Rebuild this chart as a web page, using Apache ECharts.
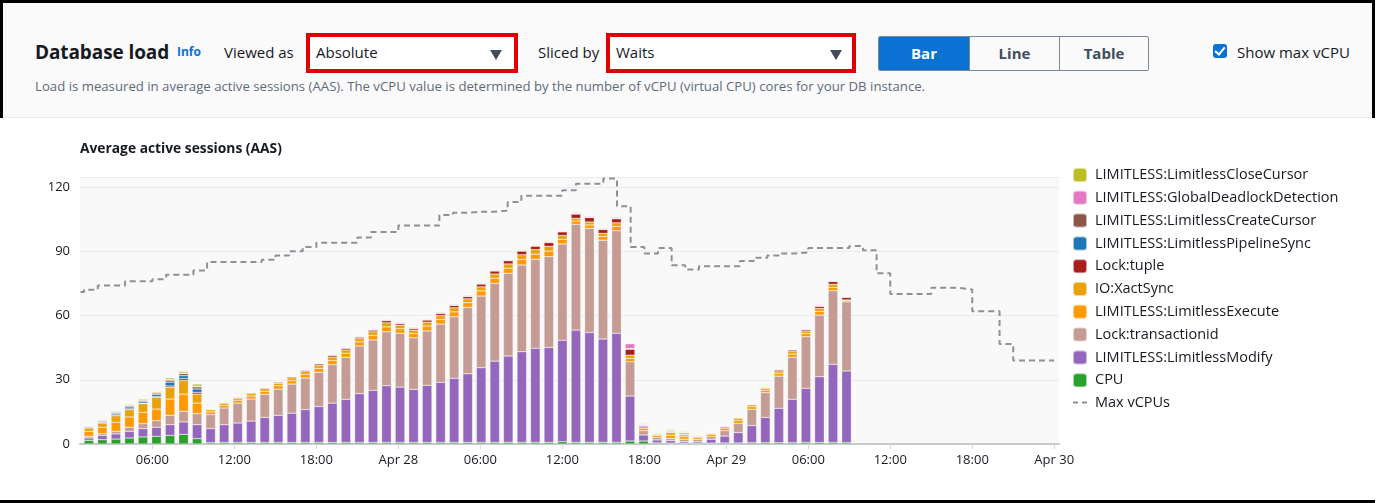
<!DOCTYPE html>
<html>
<head>
<meta charset="utf-8">
<script src="https://cdn.jsdelivr.net/npm/echarts@6/dist/echarts.min.js"></script>
<style>
  html, body { margin: 0; padding: 0; width: 1384px; height: 503px; overflow: hidden; background: #fff; }
  body { font-family: "Open Sans", "Noto Sans", sans-serif; color: #16191f; position: relative; }
  #frame { position: absolute; left: 0; top: 0; width: 1369px; height: 497px; border: 3px solid #000; box-sizing: content-box; }
  #header { position: absolute; left: 3px; top: 3px; width: 1369px; height: 114px; background: #fafafa; border-bottom: 1px solid #e9ebed; }
  .abs { position: absolute; white-space: nowrap; }
  .title { left: 32px; top: 36px; font-size: 19px; font-weight: 700; letter-spacing: -0.1px; }
  .info { left: 174px; top: 40px; font-size: 12px; font-weight: 700; color: #0972d3; }
  .lbl { font-size: 15px; top: 39px; }
  .select { top: 30px; height: 32px; border: 4px solid #e00000; background: #fff; }
  .select span { position: absolute; left: 6px; top: 5px; font-size: 15px; }
  .select i { position: absolute; top: 13px; width: 0; height: 0; border-left: 6px solid transparent; border-right: 6px solid transparent; border-top: 10px solid #414d5c; }
  .seg { top: 33px; height: 33px; border: 1px solid #7d8998; border-radius: 2px; display: flex; overflow: hidden; }
  .seg div { height: 33px; line-height: 33px; text-align: center; font-size: 15px; font-weight: 700; color: #414d5c; box-sizing: border-box; }
  .seg div + div { border-left: 1px solid #7d8998; }
  .seg .on { background: #0972d3; color: #fff; }
  .chk { left: 1210px; top: 41px; width: 14px; height: 14px; border-radius: 3px; background: #0972d3; }
  .chk::after { content: ""; position: absolute; left: 4px; top: 1px; width: 4px; height: 8px; border: solid #fff; border-width: 0 2px 2px 0; transform: rotate(40deg); }
  .show { left: 1234px; top: 39px; font-size: 15px; }
  .sub { left: 32px; top: 74px; font-size: 13.2px; color: #5f6b7a; }
  #chart { position: absolute; left: 0; top: 118px; width: 1384px; height: 382px; }
</style>
</head>
<body>
<div id="frame"></div>
<div id="header">
  <div class="abs title">Database load</div>
  <div class="abs info">Info</div>
  <div class="abs lbl" style="left:221px">Viewed as</div>
  <div class="abs select" style="left:303px;width:204px"><span>Absolute</span><i style="left:180px"></i></div>
  <div class="abs lbl" style="left:535px">Sliced by</div>
  <div class="abs select" style="left:603px;width:242px"><span>Waits</span><i style="left:220px"></i></div>
  <div class="abs seg" style="left:875px">
    <div class="on" style="width:90px">Bar</div>
    <div style="width:90px">Line</div>
    <div style="width:89px">Table</div>
  </div>
  <div class="abs chk"></div>
  <div class="abs show">Show max vCPU</div>
  <div class="abs sub">Load is measured in average active sessions (AAS). The vCPU value is determined by the number of vCPU (virtual CPU) cores for your DB instance.</div>
</div>
<div id="chart"></div>
<script>
// Hour offsets from Apr 27 00:00 for each hourly bar (Apr 27 01:00 .. Apr 29 09:00)
const hours = [1,2,3,4,5,6,7,8,9,10,11,12,13,14,15,16,17,18,19,20,21,22,23,24,25,26,27,28,29,30,31,32,33,34,35,36,37,38,39,40,41,42,43,44,45,46,47,48,49,50,51,52,53,54,55,56,57];

// Average active sessions per wait event
const cpu = [1.7,2.0,2.3,2.8,3.3,3.6,4.0,4.5,2.5,0.6,0.7,0.7,0.7,0.7,0.7,0.7,0.7,0.7,0.7,0.7,0.7,0.7,0.7,0.7,0.7,0.7,0.7,0.7,0.7,0.7,0.7,0.8,0.8,0.8,0.8,1.1,0.8,0.8,0.8,0.8,1.4,1.4,0.5,0.4,0.4,0.4,0.4,0.5,0.5,0.6,0.6,0.6,0.6,0.7,0.7,0.7,0.6];
const limitlessModify = [1.1,2.0,2.4,3.1,3.9,4.2,5.0,5.8,6.5,6.6,8.3,9.1,10.0,11.7,12.7,13.7,15.4,16.8,18.4,20.2,22.8,24.4,26.5,25.9,24.8,26.7,28.1,30.0,32.1,34.9,38.0,40.3,42.3,43.9,44.3,47.3,52.4,51.3,48.2,50.9,21.0,2.8,1.4,1.2,0.7,0.7,1.8,3.2,4.8,8.0,11.8,16.1,20.3,25.3,30.7,36.5,33.5];
const lockTransactionid = [0.8,0.8,1.2,1.9,2.3,3.1,4.4,5.0,5.2,6.5,7.8,9.3,10.3,10.8,12.2,13.6,14.7,16.0,17.9,19.6,22.3,23.5,25.2,25.1,24.1,25.4,27.2,28.7,31.0,33.5,36.3,38.6,40.5,41.5,42.4,45.0,49.4,48.6,46.2,47.9,16.0,2.0,1.2,1.0,1.1,1.1,1.2,2.5,4.3,7.6,11.6,15.0,19.6,24.1,28.8,34.4,32.3];
const limitlessExecute = [2.3,3.0,4.2,4.8,5.3,5.4,7.6,8.0,4.9,1.3,1.3,1.3,1.4,1.4,1.6,1.6,1.7,1.8,2.0,1.9,1.9,2.1,2.3,2.1,2.0,2.3,2.2,2.3,2.2,2.4,2.4,2.4,2.6,2.5,2.6,2.2,1.5,1.6,1.7,2.0,1.6,1.1,0.9,1.5,1.2,0.8,1.0,1.2,1.4,1.2,1.1,1.4,1.5,1.5,1.7,1.6,0.5];
const ioXactSync = [1.6,2.0,3.1,3.4,4.0,5.5,5.5,6.4,4.2,1.0,1.0,1.0,1.1,1.2,1.2,1.3,1.3,1.4,1.6,1.5,1.5,1.7,1.9,1.7,1.6,1.8,1.8,1.9,1.8,1.9,2.0,2.0,2.2,2.1,2.2,1.8,1.3,1.4,1.5,1.7,1.5,0.8,0.6,1.2,0.9,0.6,0.6,0.7,1.0,0.9,0.9,1.1,1.2,1.2,1.4,1.4,0.4];
const lockTuple = [0.2,0.3,0.4,0.4,0.3,0.4,0.6,0.8,0.8,0.3,0.3,0.4,0.4,0.4,0.5,0.5,0.6,0.7,0.8,0.8,0.7,0.8,1.0,0.8,0.8,1.0,1.0,1.1,1.1,1.3,1.4,1.5,1.7,1.6,1.8,1.7,2.0,2.1,1.8,1.9,2.8,0.5,0.1,0.3,0.2,0.1,0.2,0.3,0.3,0.3,0.4,0.6,0.7,0.7,1.0,1.3,1.2];
const limitlessPipelineSync = [0.4,0.5,0.7,0.9,0.8,1.0,1.8,1.4,1.6,0.1,0.1,0.1,0.1,0.1,0.1,0.1,0.1,0.1,0.1,0.1,0.1,0.1,0.1,0.1,0.1,0.1,0.1,0.1,0.1,0.1,0.1,0.1,0.1,0.1,0.1,0.1,0.1,0.1,0.1,0.1,0.1,0.2,0.1,0.3,0.6,0.1,0.1,0.1,0.1,0.1,0.1,0.1,0.1,0.1,0.1,0.1,0.1];
const limitlessCreateCursor = [0.3,0.4,0.5,0.5,0.5,0.6,0.9,1.0,1.0,0.1,0.1,0.1,0.2,0.2,0.2,0.2,0.2,0.2,0.3,0.3,0.3,0.3,0.3,0.3,0.3,0.3,0.3,0.3,0.3,0.3,0.3,0.3,0.3,0.3,0.3,0.3,0.2,0.2,0.2,0.2,0.2,0.3,0.1,0.3,0.3,0.2,0.2,0.2,0.2,0.1,0.1,0.2,0.2,0.2,0.2,0.2,0.1];
const globalDeadlockDetection = [0.1,0.1,0.1,0.1,0.1,0.1,0.2,0.2,0.3,0.2,0.2,0.2,0.2,0.2,0.2,0.2,0.2,0.2,0.2,0.2,0.2,0.3,0.3,0.3,0.3,0.3,0.3,0.3,0.3,0.3,0.3,0.3,0.3,0.3,0.3,0.3,0.4,0.4,0.4,0.5,2.2,0.2,0.0,0.1,0.1,0.0,0.1,0.1,0.1,0.1,0.1,0.1,0.1,0.1,0.2,0.3,0.3];
const limitlessCloseCursor = [0.2,0.3,0.4,0.5,0.5,0.5,0.8,0.8,1.0,0.1,0.1,0.1,0.1,0.1,0.1,0.1,0.1,0.1,0.1,0.1,0.1,0.1,0.1,0.1,0.1,0.1,0.1,0.1,0.1,0.1,0.1,0.1,0.1,0.1,0.1,0.1,0.1,0.1,0.1,0.1,0.2,0.3,0.1,0.5,0.3,0.2,0.2,0.1,0.1,0.1,0.1,0.1,0.1,0.1,0.1,0.1,0.1];

// Max vCPU, one value per hour (held until the next hour)
const vcpuHours = [0,1,2,3,4,5,6,7,8,9,10,11,12,13,14,15,16,17,18,19,20,21,22,23,24,25,26,27,28,29,30,31,32,33,34,35,36,37,38,39,40,41,42,43,44,45,46,47,48,49,50,51,52,53,54,55,56,57,58,59,60,61,62,63,64,65,66,67,68,69,70,71,72];
const maxVcpu = [71,72,74,74,76,76,77,79,79,81,85,85,85,85,86,88,90,92,94,94,94,96.5,99,99,102,102,102,107,108,108.5,108.5,109,113,116,116,116,118.5,121.5,121.5,124,111,92,89,91.5,83.5,81.5,83,83,83,85.5,87,88,89,89.5,91.5,91.5,91.5,92.5,90.5,79.7,70,70,70,73,73,72.2,62,62,46.7,39,39,39,39];

// X axis tick positions (hours from Apr 27 00:00) and their labels
const tickHours = [6,12,18,24,30,36,42,48,54,60,66,72];
const tickLabels = ['06:00','12:00','18:00','Apr 28','06:00','12:00','18:00','Apr 29','06:00','12:00','18:00','Apr 30'];
const yTicks = [0,30,60,90,120];

const waitSeries = [
  { name: 'CPU', data: cpu, color: '#2ca02c' },
  { name: 'LIMITLESS:LimitlessModify', data: limitlessModify, color: '#9467bd' },
  { name: 'Lock:transactionid', data: lockTransactionid, color: '#c49c94' },
  { name: 'LIMITLESS:LimitlessExecute', data: limitlessExecute, color: '#ff9900' },
  { name: 'IO:XactSync', data: ioXactSync, color: '#e8a20c' },
  { name: 'Lock:tuple', data: lockTuple, color: '#a91d1d' },
  { name: 'LIMITLESS:LimitlessPipelineSync', data: limitlessPipelineSync, color: '#1f77b4' },
  { name: 'LIMITLESS:LimitlessCreateCursor', data: limitlessCreateCursor, color: '#8c564b' },
  { name: 'LIMITLESS:GlobalDeadlockDetection', data: globalDeadlockDetection, color: '#e377c2' },
  { name: 'LIMITLESS:LimitlessCloseCursor', data: limitlessCloseCursor, color: '#bcbd22' }
];

const FONT = '"Open Sans", "Noto Sans", sans-serif';
const HOUR = 3600 * 1000;
const START = Date.UTC(2024, 3, 27);          // Apr 27 00:00
const t = h => START + h * HOUR;
const X_MIN = 0.7, X_MAX = 72.35;             // visible window, in hours

// Bars live on a hidden time axis (so they stack per timestamp);
// the visible hour axis carries the ticks and labels over the same window.
const series = waitSeries.map(s => ({
  name: s.name,
  type: 'bar',
  stack: 'load',
  xAxisIndex: 1,
  barWidth: 9.6,
  itemStyle: { color: s.color, borderColor: 'rgba(255,255,255,0.55)', borderWidth: 0.5 },
  data: hours.map((h, i) => [t(h), s.data[i]])
}));

series.push({
  name: 'Max vCPUs',
  type: 'line',
  step: 'end',
  symbol: 'none',
  xAxisIndex: 0,
  z: 5,
  lineStyle: { color: '#8c9298', width: 2, type: [6, 4] },
  itemStyle: { color: '#8c9298' },
  data: vcpuHours.map((h, i) => [h, maxVcpu[i]])
});

const chart = echarts.init(document.getElementById('chart'), null, { renderer: 'canvas' });
chart.setOption({
  animation: false,
  useUTC: true,
  backgroundColor: '#ffffff',
  title: {
    text: 'Average active sessions (AAS)',
    left: 80, top: 24, padding: 0,
    textStyle: { fontFamily: FONT, fontSize: 13.8, fontWeight: 'bold', color: '#16191f' }
  },
  legend: {
    orient: 'vertical',
    left: 1072, top: 49,
    itemWidth: 14, itemHeight: 14, itemGap: 6.8,
    icon: 'roundRect',
    padding: 0,
    textStyle: { fontFamily: FONT, fontSize: 14.5, lineHeight: 14, color: '#16191f', padding: [0, 0, 0, 3] },
    data: [
      'LIMITLESS:LimitlessCloseCursor', 'LIMITLESS:GlobalDeadlockDetection', 'LIMITLESS:LimitlessCreateCursor',
      'LIMITLESS:LimitlessPipelineSync', 'Lock:tuple', 'IO:XactSync', 'LIMITLESS:LimitlessExecute',
      'Lock:transactionid', 'LIMITLESS:LimitlessModify', 'CPU',
      { name: 'Max vCPUs', icon: 'path://M0,6 L5,6 L5,8 L0,8 Z M9,6 L14,6 L14,8 L9,8 Z', itemStyle: { color: '#8c9298' } }
    ]
  },
  grid: {
    left: 80, right: 325, top: 59, bottom: 56,
    show: true, backgroundColor: '#f9f9f9', borderWidth: 0
  },
  xAxis: [{
    type: 'value', min: X_MIN, max: X_MAX,
    axisLine: { show: true, lineStyle: { color: '#c6c9cd', width: 2 } },
    axisTick: { show: true, customValues: tickHours, length: 5, lineStyle: { color: '#d5d8dc' } },
    axisLabel: {
      customValues: tickHours, margin: 10,
      fontFamily: FONT, fontSize: 13, color: '#16191f',
      formatter: v => { const i = tickHours.indexOf(Math.round(v)); return i >= 0 ? tickLabels[i] : ''; }
    },
    splitLine: { show: false }
  }, {
    type: 'time', show: false, min: t(X_MIN), max: t(X_MAX)
  }, {
    type: 'value', position: 'top', min: X_MIN, max: X_MAX,
    axisLine: { show: true, lineStyle: { color: '#e9ebed', width: 1 } },
    axisTick: { show: false }, axisLabel: { show: false }, splitLine: { show: false }
  }],
  yAxis: {
    type: 'value', min: 0, max: 124.7, interval: 30,
    axisLine: { show: false }, axisTick: { show: false },
    axisLabel: {
      customValues: yTicks, margin: 10,
      fontFamily: FONT, fontSize: 13, color: '#16191f'
    },
    splitLine: { show: true, lineStyle: { color: '#e9ebed', width: 1 } }
  },
  series: series
});
</script>
</body>
</html>
